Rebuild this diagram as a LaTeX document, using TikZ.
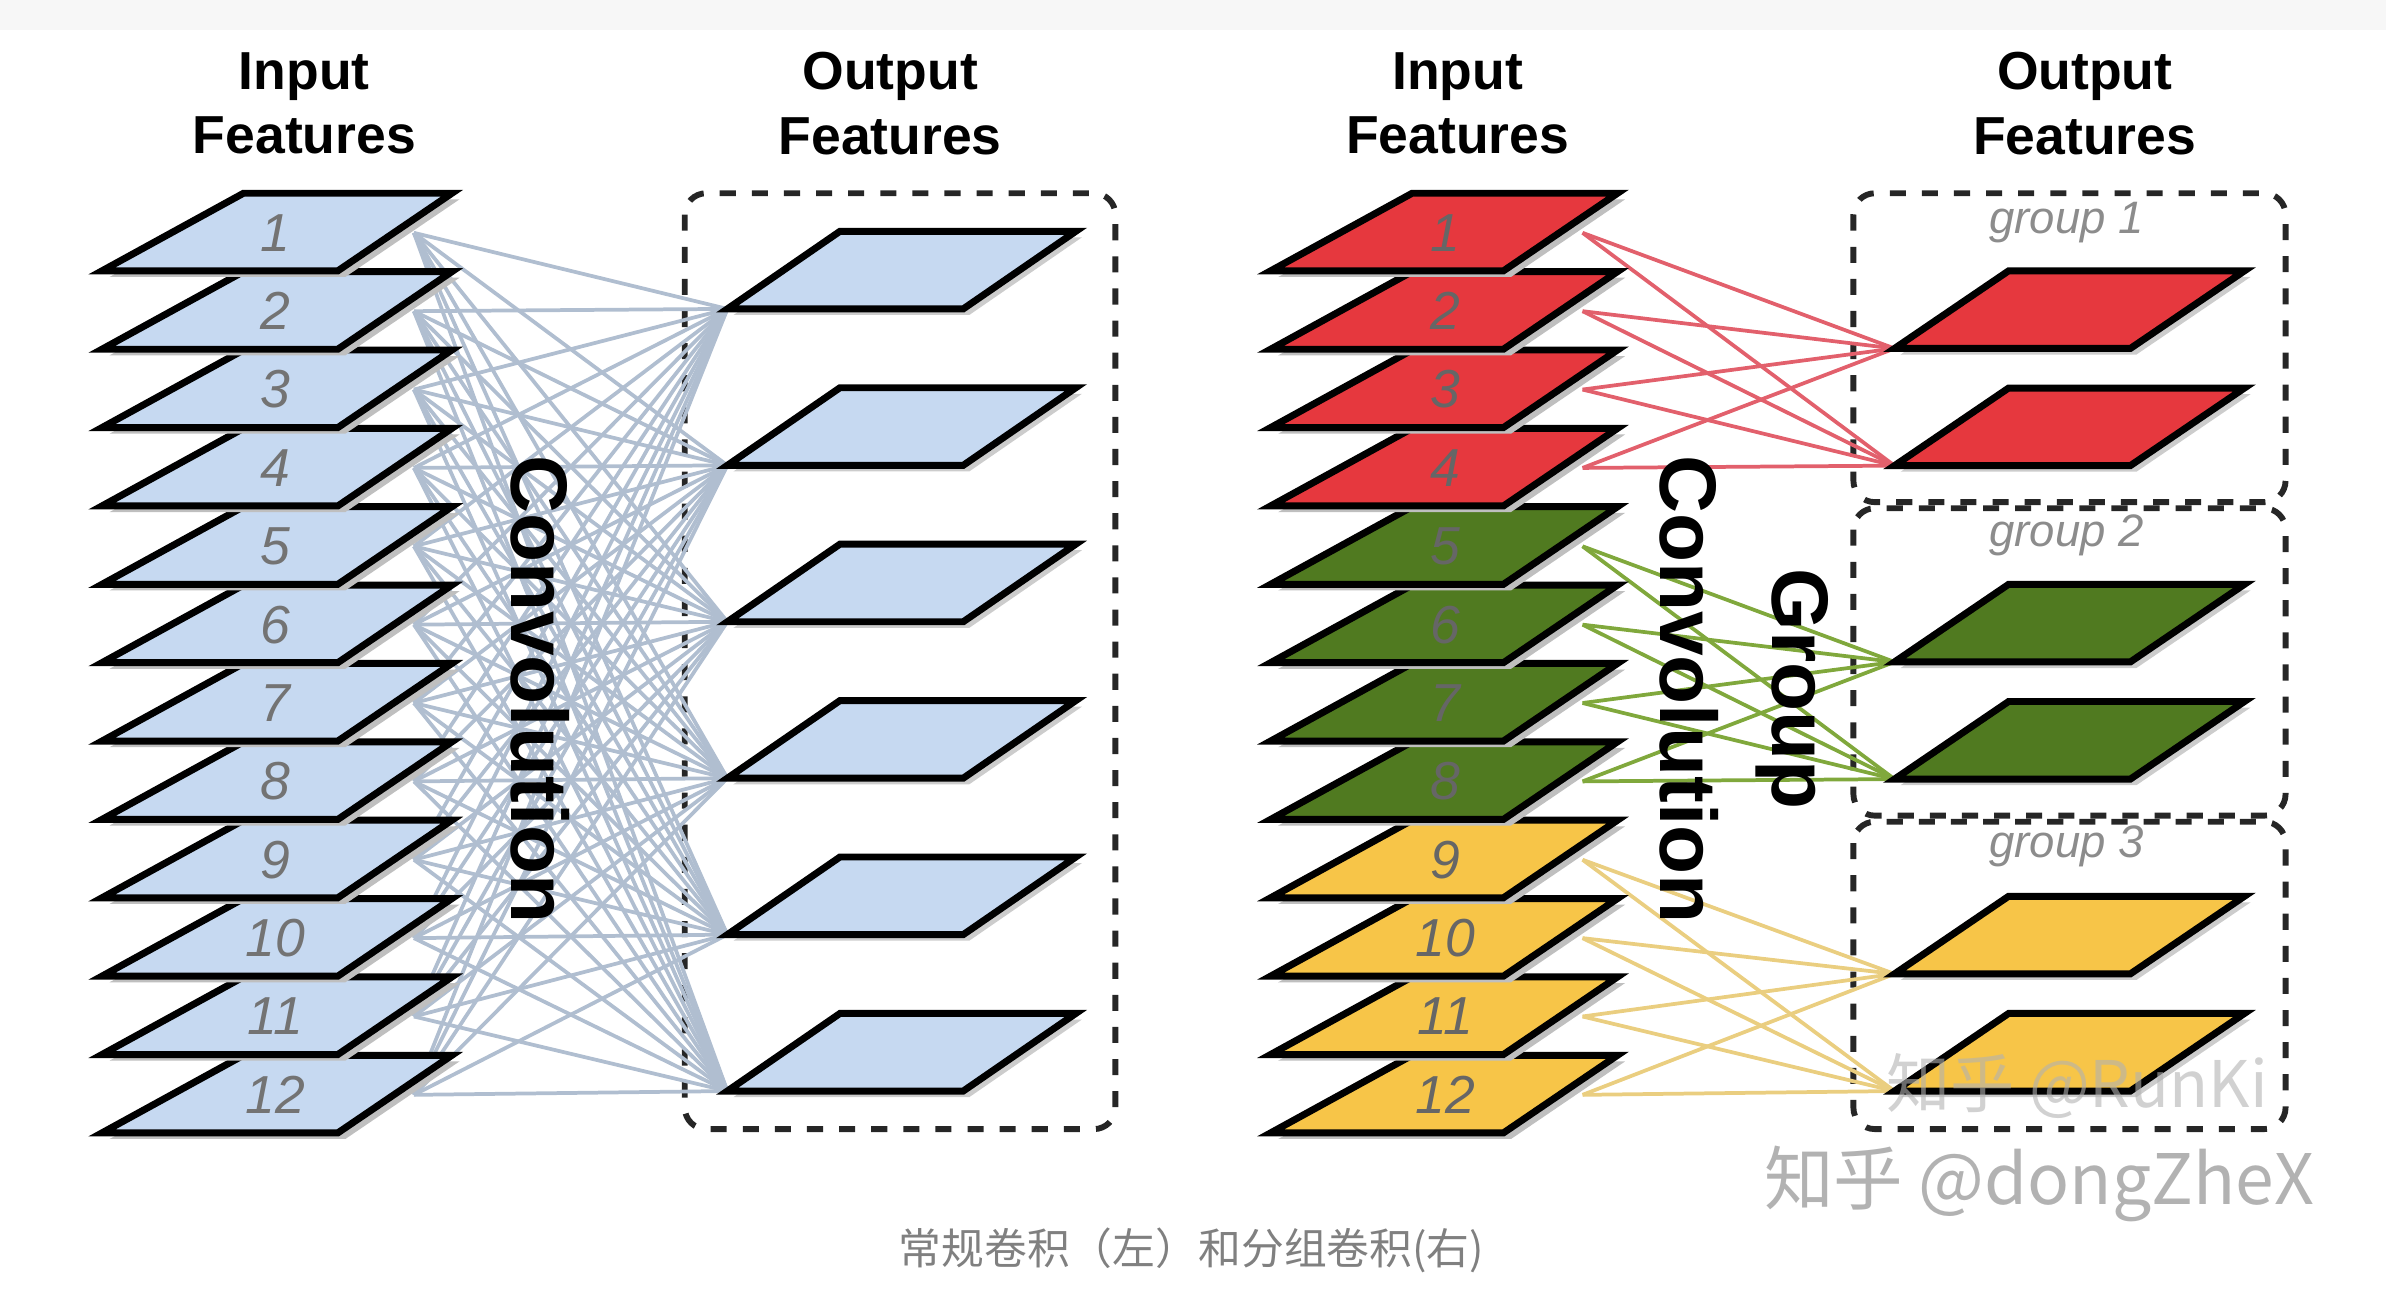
\documentclass[tikz,border=0pt]{standalone}
\usepackage{fontspec}
\setmainfont{Liberation Sans}
\newfontfamily\cjk{Noto Sans CJK SC}
\begin{document}
\begin{tikzpicture}[x=0.01cm,y=-0.01cm,
  layer/.style={draw=black,line width=1.3pt,line join=miter},
  num/.style={font=\fontsize{10}{10}\selectfont\itshape,text=black!55},
  head/.style={font=\fontsize{10}{12}\selectfont\bfseries,align=center},
  conv/.style={font=\fontsize{15}{15}\selectfont\bfseries,rotate=-90},
  grp/.style={font=\fontsize{8.5}{9}\selectfont\itshape,text=black!45},
  box/.style={draw=black!85,dashed,line width=1.1pt,rounded corners=4pt},
  ln/.style={line width=0.7pt}]
\definecolor{cblue}{RGB}{198,217,241}
\definecolor{cred}{RGB}{230,56,62}
\definecolor{cgreen}{RGB}{80,122,32}
\definecolor{cyel}{RGB}{247,197,72}
\definecolor{lblue}{RGB}{176,190,208}
\definecolor{lred}{RGB}{226,96,108}
\definecolor{lgreen}{RGB}{128,168,60}
\definecolor{lyel}{RGB}{234,206,128}
\useasboundingbox (0,0) rectangle (1568,850.4);
\fill[black!3] (0,0) rectangle (1568,20);
% headings
\node[head] (h1) at (200,68) {Input\\Features};
\node[head] (h2) at (585,68) {Output\\Features};
\node[head] (h3) at (958,68) {Input\\Features};
\node[head] (h4) at (1370,68) {Output\\Features};
% boxes
\draw[box] (450,127) rectangle (733,742);
\draw[box] (1218,127) rectangle (1502,330);
\draw[box] (1218,334) rectangle (1502,536);
\draw[box] (1218,540) rectangle (1502,742);
\node[grp] (gl1) at (1358,146) {group 1};
\node[grp] (gl2) at (1358,352) {group 2};
\node[grp] (gl3) at (1358,556) {group 3};
% left outputs coordinates
\foreach \j in {0,...,5}{
  \pgfmathsetmacro\yt{152+102.8*\j}
  \coordinate (o\j) at (478,\yt+51);
}
% right outputs coordinates
\foreach \j/\yt in {0/178,1/255,2/384,3/461,4/589,5/666}{
  \coordinate (p\j) at (1245,\yt+51);
}
% input start coordinates
\foreach \i in {1,...,12}{
  \pgfmathsetmacro\yc{153+51.5*(\i-1)}
  \coordinate (a\i) at (272,\yc);
  \coordinate (c\i) at (1040,\yc);
}
% connectors
\foreach \i in {1,...,12}{\foreach \j in {0,...,5}{\draw[ln,lblue] (a\i) -- (o\j);}}
\foreach \i in {1,...,4}{\foreach \j in {0,1}{\draw[ln,lred] (c\i) -- (p\j);}}
\foreach \i in {5,...,8}{\foreach \j in {2,3}{\draw[ln,lgreen] (c\i) -- (p\j);}}
\foreach \i in {9,...,12}{\foreach \j in {4,5}{\draw[ln,lyel] (c\i) -- (p\j);}}
% input layers (bottom first so upper overlaps)
\foreach \i in {12,11,...,1}{
  \pgfmathsetmacro\yt{127+51.5*(\i-1)}
  \pgfmathtruncatemacro\g{int((\i-1)/4)}
  \ifcase\g \def\cc{cred}\or \def\cc{cgreen}\or \def\cc{cyel}\fi
  \fill[black!25] (165,\yt+4) -- (302,\yt+4) -- (227,\yt+55) -- (72,\yt+55) -- cycle;
  \draw[layer,fill=cblue] (160,\yt) -- (297,\yt) -- (222,\yt+51) -- (67,\yt+51) -- cycle;
  \node[num] (n\i) at (181,\yt+26) {\i};
  \fill[black!25] (933,\yt+4) -- (1068,\yt+4) -- (993,\yt+55) -- (840,\yt+55) -- cycle;
  \draw[layer,fill=\cc] (928,\yt) -- (1063,\yt) -- (988,\yt+51) -- (835,\yt+51) -- cycle;
  \node[num,text=black!60] (m\i) at (950,\yt+26) {\i};
}
% output layers
\foreach \j in {0,...,5}{
  \pgfmathsetmacro\yt{152+102.8*\j}
  \fill[black!20] (556,\yt+4) -- (711,\yt+4) -- (637,\yt+55) -- (482,\yt+55) -- cycle;
  \draw[layer,fill=cblue] (552,\yt) -- (707,\yt) -- (633,\yt+51) -- (478,\yt+51) -- cycle;
}
\foreach \yt/\cc in {178/cred,255/cred,384/cgreen,461/cgreen,589/cyel,666/cyel}{
  \fill[black!20] (1324,\yt+4) -- (1479,\yt+4) -- (1404,\yt+55) -- (1249,\yt+55) -- cycle;
  \draw[layer,fill=\cc] (1320,\yt) -- (1475,\yt) -- (1400,\yt+51) -- (1245,\yt+51) -- cycle;
}
% labels
\node[conv] (cv) at (355,453) {Convolution};
\node[conv] (cv2) at (1110,453) {Convolution};
\node[conv] (gr) at (1178,453) {Group};
\node[font=\cjk\fontsize{12}{12}\selectfont,text=white!70!black,opacity=0.6] (w1) at (1365,714) {知乎 @RunKi};
\node[font=\cjk\fontsize{13}{13}\selectfont,text=black!30] (w2) at (1340,778) {知乎 @dongZheX};
\node[font=\cjk\fontsize{8}{8}\selectfont,text=black!50] (cap) at (783,822) {常规卷积（左）和分组卷积(右)};
\end{tikzpicture}
\end{document}
